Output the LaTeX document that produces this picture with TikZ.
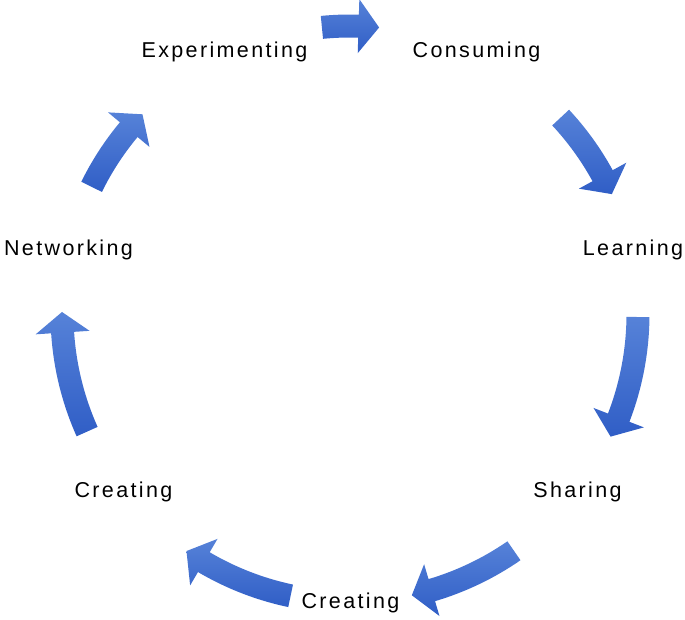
\documentclass[tikz,border=0pt]{standalone}
\usepackage{fontspec}
\setmainfont{Liberation Sans}[LetterSpace=11]
\usetikzlibrary{calc}
\definecolor{arrtop}{RGB}{86,130,216}
\definecolor{arrbot}{RGB}{48,94,198}
\tikzset{
  lbl/.style={font=\fontsize{21.5}{25}\selectfont, text=black, inner sep=0pt, anchor=base},
  arrowfill/.style={top color=arrtop, bottom color=arrbot, draw=none}
}
\newcommand{\cycarrow}[2]{%
  \pgfmathsetmacro\hb{#2+4.1}%
  \shade[arrowfill] ($(C)+(#1:299.5pt)$) arc[start angle=#1, end angle=\hb, radius=299.5pt]
    -- ($(C)+(\hb:315pt)$) -- ($(C)+(#2:288pt)$) -- ($(C)+(\hb:261pt)$)
    -- ($(C)+(\hb:276.5pt)$) arc[start angle=\hb, end angle=#1, radius=276.5pt] -- cycle;
}
\begin{document}
\begin{tikzpicture}[x=1pt,y=1pt]
\path[use as bounding box] (0,0) rectangle (685,619);
\coordinate (C) at (350,305);
\node[lbl] (exp) at (224.5,561) {Experimenting};
\node[lbl] (con) at (476.5,561) {Consuming};
\node[lbl] (lea) at (633,363) {Learning};
\node[lbl] (sha) at (577.5,122) {Sharing};
\node[lbl] (crb) at (350.5,11) {Creating};
\node[lbl] (crl) at (123.5,122) {Creating};
\node[lbl] (net) at (68.5,363) {Networking};
\cycarrow{95.6}{84.2}
\cycarrow{43}{24.6}
\cycarrow{-0.6}{-25.2}
\cycarrow{-55.3}{-77.6}
\cycarrow{258.1}{235.4}
\cycarrow{204.1}{179.6}
\cycarrow{153.8}{136.1}
\end{tikzpicture}
\end{document}
